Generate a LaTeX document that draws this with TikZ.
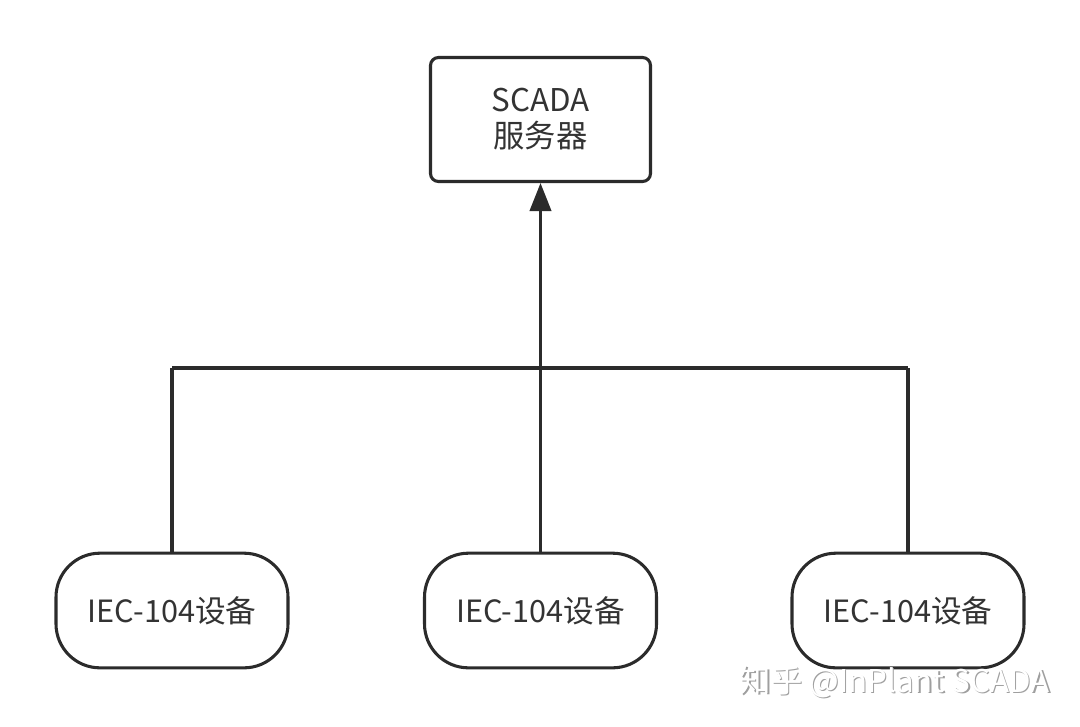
\documentclass[tikz,border=0pt]{standalone}
\usepackage{fontspec}
\setmainfont{Noto Sans CJK SC}
\usepackage{xcolor}
\usepackage{tikz}
\usetikzlibrary{arrows.meta, positioning, calc}

\definecolor{lineblack}{HTML}{2B2B2B}
\definecolor{textgray}{HTML}{333333}

\tikzset{
  serverbox/.style={draw=lineblack, line width=2.3pt, rounded corners=6pt,
    minimum width=165pt, minimum height=93pt, align=center,
    font=\fontsize{23.5}{27}\selectfont, text=textgray, inner sep=0pt},
  devicebox/.style={draw=lineblack, line width=2.3pt, rounded corners=33pt,
    minimum width=174pt, minimum height=86pt, align=center,
    font=\fontsize{23}{27}\selectfont, text=textgray, inner sep=0pt},
  link/.style={draw=lineblack, line width=2.3pt},
  uplink/.style={link, -{Triangle[length=21pt, width=16pt]}},
  markfont/.style={anchor=west, font=\fontsize{23.5}{26}\selectfont},
}

\begin{document}
\begin{tikzpicture}[x=0.75pt, y=-0.75pt]
    \useasboundingbox (0,0) rectangle (1080,726);

    % server on top
    \node[serverbox] (scada) at (540.5, 119.5) {SCADA\\服务器};

    % three IEC-104 devices
    \node[devicebox] (dev1) at (172, 610.5) {IEC-104设备};
    \node[devicebox] (dev2) at (540.5, 610.5) {IEC-104设备};
    \node[devicebox] (dev3) at (908, 610.5) {IEC-104设备};

    % bus joint and its two ends
    \coordinate (bus) at (540.5, 368);
    \coordinate (busleft) at (dev1.north |- bus);
    \coordinate (busright) at (dev3.north |- bus);

    % connectors
    \draw[link] (dev1.north) -- (busleft);
    \draw[link] (busleft) -- (bus);
    \draw[link] (dev3.north) -- (busright);
    \draw[link] (busright) -- (bus);
    \draw[link] (dev2.north) -- (bus);
    \draw[uplink] (bus) -- (scada.south);

    % watermark
    \node[markfont, text=gray!75] (markshadow) at (736.5, 683.5) {知乎 @InPlant SCADA};
    \node[markfont, text=white] (mark) at (735, 682) {知乎 @InPlant SCADA};
\end{tikzpicture}
\end{document}
